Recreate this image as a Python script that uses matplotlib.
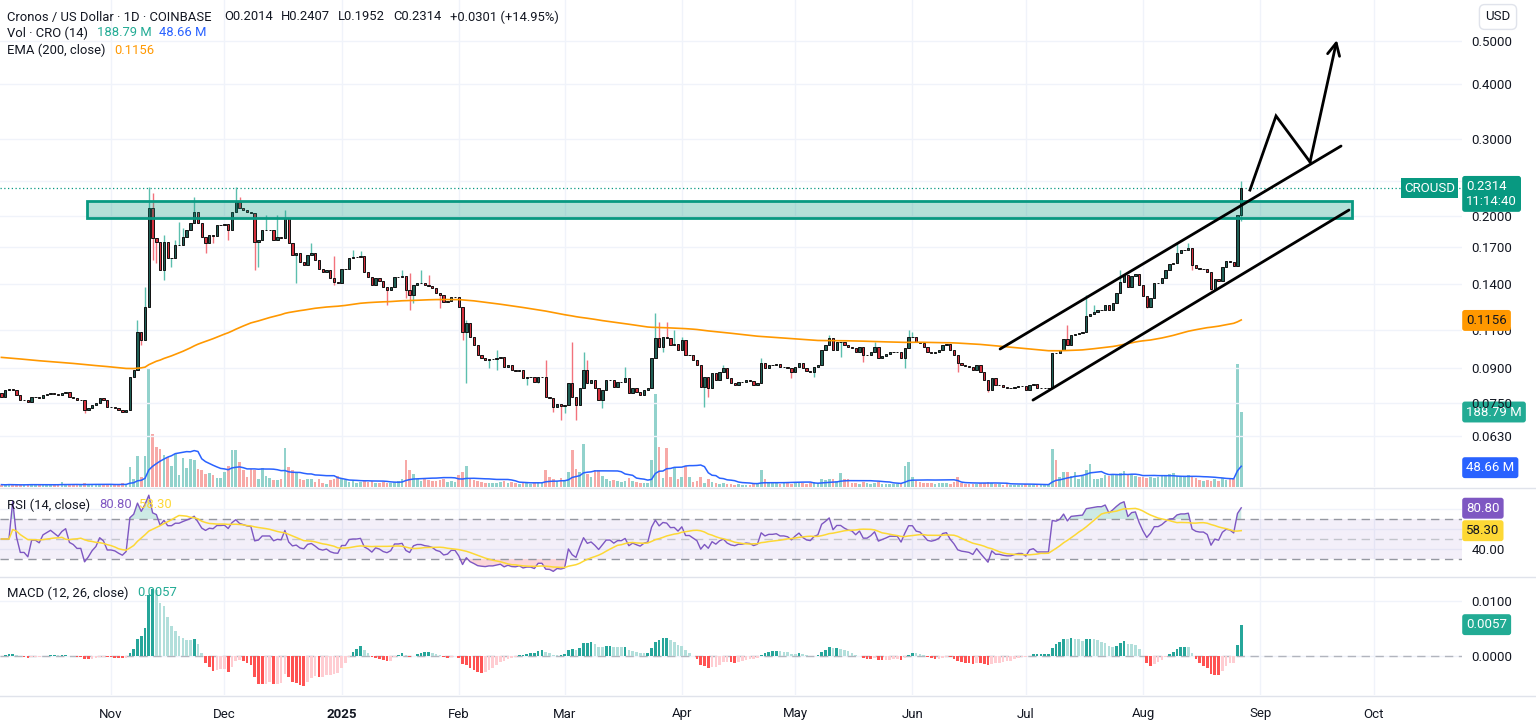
import numpy as np
import pandas as pd
import matplotlib
matplotlib.use("Agg")
import matplotlib.pyplot as plt
import matplotlib.transforms as mtransforms
from matplotlib.patches import Rectangle
from matplotlib.lines import Line2D
from matplotlib.ticker import NullLocator

plt.rcParams['font.family'] = ['Roboto', 'DejaVu Sans']

W, H = 1536, 725

# ---- data (daily CRO/USD, 2024-10-03 .. 2025-08-27) ----
start_date = "2024-10-03"
first_open = 0.0790
closes = [
    0.0773, 0.0802, 0.0806, 0.0802, 0.0781, 0.0761, 0.0761, 0.0753, 0.0773, 0.0773,
    0.0769, 0.0781, 0.0785, 0.0789, 0.0785, 0.0781, 0.0789, 0.0794, 0.0773, 0.0769,
    0.0761, 0.0761, 0.0722, 0.0730, 0.0741, 0.0749, 0.0769, 0.0761, 0.0733, 0.0733,
    0.0730, 0.0722, 0.0715, 0.0722, 0.0859, 0.0891, 0.1087, 0.1043, 0.1240, 0.2086,
    0.1781, 0.1744, 0.1506, 0.1744, 0.1604, 0.1604, 0.1717, 0.1717, 0.1791, 0.1858,
    0.1927, 0.2042, 0.1927, 0.1791, 0.1735, 0.1810, 0.1800, 0.1907, 0.1907, 0.1917,
    0.1858, 0.2042, 0.2152, 0.2086, 0.2064, 0.2042, 0.2032, 0.1744, 0.1763, 0.1858,
    0.1858, 0.1858, 0.1763, 0.1791, 0.1781, 0.1979, 0.1735, 0.1630, 0.1647, 0.1571,
    0.1547, 0.1630, 0.1647, 0.1587, 0.1514, 0.1490, 0.1506, 0.1444, 0.1414, 0.1407,
    0.1514, 0.1514, 0.1604, 0.1612, 0.1612, 0.1621, 0.1490, 0.1452, 0.1392, 0.1444,
    0.1422, 0.1377, 0.1356, 0.1377, 0.1452, 0.1452, 0.1459, 0.1356, 0.1321, 0.1392,
    0.1407, 0.1407, 0.1392, 0.1385, 0.1370, 0.1335, 0.1321, 0.1274, 0.1280, 0.1307,
    0.1307, 0.1240, 0.1087, 0.1141, 0.1060, 0.1017, 0.0964, 0.0949, 0.0939, 0.0944,
    0.0944, 0.0949, 0.0954, 0.0905, 0.0914, 0.0891, 0.0886, 0.0891, 0.0855, 0.0859,
    0.0859, 0.0837, 0.0859, 0.0859, 0.0773, 0.0769, 0.0733, 0.0745, 0.0737, 0.0741,
    0.0833, 0.0773, 0.0741, 0.0810, 0.0891, 0.0833, 0.0846, 0.0810, 0.0761, 0.0802,
    0.0846, 0.0846, 0.0815, 0.0837, 0.0837, 0.0855, 0.0789, 0.0810, 0.0794, 0.0781,
    0.0802, 0.0810, 0.0949, 0.1054, 0.1006, 0.1060, 0.1055, 0.1017, 0.1020, 0.0990,
    0.1043, 0.0964, 0.0964, 0.0939, 0.0914, 0.0815, 0.0859, 0.0810, 0.0877, 0.0846,
    0.0882, 0.0900, 0.0855, 0.0833, 0.0824, 0.0837, 0.0837, 0.0846, 0.0842, 0.0824,
    0.0833, 0.0924, 0.0900, 0.0914, 0.0914, 0.0919, 0.0905, 0.0905, 0.0900, 0.0882,
    0.0905, 0.0924, 0.0900, 0.0886, 0.0882, 0.0905, 0.0914, 0.0990, 0.1017, 0.1054,
    0.0990, 0.1032, 0.1032, 0.1017, 0.1006, 0.1001, 0.0980, 0.1006, 0.0964, 0.0964,
    0.0980, 0.1006, 0.0949, 0.0959, 0.0969, 0.0980, 0.0980, 0.0980, 0.0949, 0.1001,
    0.1060, 0.1060, 0.1032, 0.1027, 0.1006, 0.0980, 0.0975, 0.0980, 0.0990, 0.1017,
    0.1022, 0.0990, 0.0964, 0.0924, 0.0914, 0.0910, 0.0905, 0.0891, 0.0914, 0.0882,
    0.0846, 0.0802, 0.0855, 0.0824, 0.0824, 0.0815, 0.0810, 0.0810, 0.0815, 0.0819,
    0.0819, 0.0802, 0.0824, 0.0828, 0.0810, 0.0810, 0.0810, 0.0810, 0.0975, 0.0972,
    0.0990, 0.1049, 0.1017, 0.1071, 0.1076, 0.1082, 0.1087, 0.1183, 0.1196, 0.1208,
    0.1221, 0.1221, 0.1253, 0.1221, 0.1267, 0.1335, 0.1414, 0.1467, 0.1377, 0.1459,
    0.1475, 0.1392, 0.1314, 0.1240, 0.1300, 0.1407, 0.1407, 0.1444, 0.1506, 0.1555,
    0.1563, 0.1647, 0.1673, 0.1673, 0.1690, 0.1547, 0.1522, 0.1514, 0.1514, 0.1490,
    0.1363, 0.1436, 0.1422, 0.1530, 0.1579, 0.1571, 0.1539, 0.2014, 0.2314,
]
# visible wicks (candle index -> price)
wick_high = {36: 0.1159, 38: 0.1377, 39: 0.2332, 40: 0.2257, 43: 0.1810, 46: 0.1763,
             47: 0.1938, 48: 0.1877, 51: 0.2208, 62: 0.2332, 63: 0.2208, 70: 0.2011,
             73: 0.2011, 75: 0.2064, 82: 0.1735, 88: 0.1621, 93: 0.1673, 95: 0.1664,
             106: 0.1506, 108: 0.1483, 111: 0.1506, 113: 0.1467, 123: 0.1159, 131: 0.0990,
             144: 0.0939, 151: 0.1032, 154: 0.0980, 155: 0.0939, 165: 0.0905, 173: 0.1204,
             174: 0.1147, 176: 0.1147, 178: 0.1099, 180: 0.1060, 191: 0.0914, 201: 0.0949,
             219: 0.1071, 231: 0.1032, 240: 0.1099, 241: 0.1087, 282: 0.1128, 287: 0.1321,
             289: 0.1253, 296: 0.1506, 311: 0.1744, 314: 0.1735, 328: 0.2407}
wick_low = {22: 0.0711, 36: 0.1028, 37: 0.1017, 40: 0.1587, 41: 0.1563, 43: 0.1429,
            45: 0.1530, 54: 0.1647, 56: 0.1735, 60: 0.1763, 67: 0.1506, 68: 0.1530,
            78: 0.1407, 88: 0.1392, 102: 0.1253, 107: 0.1300, 108: 0.1221, 109: 0.1267,
            116: 0.1234, 122: 0.1043, 123: 0.0833, 129: 0.0900, 131: 0.0891, 139: 0.0824,
            142: 0.0833, 146: 0.0715, 148: 0.0685, 149: 0.0711, 152: 0.0685, 159: 0.0730,
            175: 0.0980, 186: 0.0733, 187: 0.0773, 209: 0.0855, 215: 0.0859, 222: 0.0954,
            228: 0.0929, 239: 0.0900, 253: 0.0882, 261: 0.0794, 303: 0.1234, 315: 0.1506,
            320: 0.1356, 328: 0.1952}
# volume, millions of CRO
volumes = [
    6, 5, 7, 5, 4, 6, 5, 8, 7, 5, 4, 6, 5, 7, 6, 5, 12, 6, 5, 7, 6, 5, 9, 7, 6, 5, 6, 5, 8, 6,
    7, 5, 9, 6, 50, 21, 77, 25, 77, 300, 133, 100, 95, 80, 75, 54, 83, 29, 72, 47,
    71, 67, 46, 42, 33, 36, 31, 22, 22, 37, 54, 93, 93, 62, 42, 25, 46, 42, 21, 47,
    27, 22, 17, 18, 21, 97, 50, 44, 39, 21, 17, 21, 19, 12, 21, 11, 8, 17, 21, 27,
    21, 18, 12, 15, 10, 12, 14, 12, 15, 10, 9, 12, 11, 10, 12, 14, 20, 68, 42, 33,
    20, 15, 22, 18, 15, 14, 18, 20, 12, 14, 12, 30, 39, 54, 21, 18, 15, 12, 10, 11,
    9, 10, 12, 14, 10, 12, 9, 8, 13, 10, 8, 11, 12, 10, 44, 25, 20, 15, 22, 15,
    39, 93, 46, 39, 108, 33, 25, 44, 43, 27, 20, 16, 18, 14, 12, 15, 22, 14, 12, 11,
    9, 10, 68, 235, 100, 23, 98, 25, 50, 20, 25, 54, 25, 12, 15, 25, 10, 20, 12, 10,
    8, 10, 7, 8, 6, 7, 6, 5, 6, 7, 8, 42, 20, 10, 9, 10, 8, 9, 10, 8,
    12, 10, 9, 8, 9, 12, 10, 20, 17, 20, 19, 15, 36, 20, 19, 10, 9, 8, 12, 9,
    8, 10, 12, 8, 7, 8, 7, 8, 10, 52, 64, 26, 14, 12, 11, 10, 9, 8, 9, 10,
    9, 8, 12, 25, 10, 8, 7, 8, 7, 9, 10, 12, 9, 8, 7, 6, 7, 5, 6, 5,
    6, 7, 6, 5, 6, 5, 6, 7, 96, 67, 25, 39, 39, 28, 39, 20, 28, 42, 57, 20,
    20, 23, 30, 27, 32, 33, 36, 40, 33, 30, 28, 25, 25, 22, 24, 22, 24, 28, 30, 32,
    34, 28, 26, 27, 29, 27, 22, 18, 16, 18, 16, 20, 16, 22, 18, 19, 20, 310, 189,
]
ema_seed = 0.0954

# drawings on the chart (day offset from start, price)
zone_days = (22.6, 357.3)
zone_prices = (0.1979, 0.2164)
channel_upper = [(264.2, 0.0995), (354.4, 0.2888)]
channel_lower = [(272.9, 0.0761), (356.5, 0.2064)]
path_days = [330.3, 337.2, 346.2, 353.3]
path_prices = [0.2292, 0.3382, 0.2656, 0.5038]

price_ticks = [0.5, 0.4, 0.3, 0.24, 0.2, 0.17, 0.14, 0.11, 0.09, 0.075, 0.063]
month_labels = ["Nov", "Dec", "2025", "Feb", "Mar", "Apr", "May", "Jun", "Jul", "Aug", "Sep", "Oct"]
month_starts = ["2024-11-01", "2024-12-01", "2025-01-01", "2025-02-01", "2025-03-01", "2025-04-01",
                "2025-05-01", "2025-06-01", "2025-07-01", "2025-08-01", "2025-09-01", "2025-10-01"]

# ---- derived series ----
c = np.array(closes)
n = len(c)
x = np.arange(n)
o = np.r_[first_open, c[:-1]]
hi = np.maximum(o, c)
lo = np.minimum(o, c)
for k, v in wick_high.items():
    hi[k] = max(hi[k], v)
for k, v in wick_low.items():
    lo[k] = min(lo[k], v)
up = c >= o
vol = np.array(volumes, dtype=float)
vol_ma = pd.Series(vol).rolling(14, min_periods=1).mean().values

ema = np.empty(n)
prev = ema_seed
for i in range(n):
    prev = prev + 2 / 201 * (c[i] - prev)
    ema[i] = prev

s = pd.Series(c)
d = s.diff().fillna(0)
g = d.clip(lower=0).ewm(alpha=1 / 14, adjust=False).mean()
l = (-d.clip(upper=0)).ewm(alpha=1 / 14, adjust=False).mean()
rsi = (100 - 100 / (1 + g / l.replace(0, np.nan))).fillna(50).values
rsi_ma = pd.Series(rsi).rolling(14, min_periods=1).mean().values

macd = s.ewm(span=12, adjust=False).mean() - s.ewm(span=26, adjust=False).mean()
hist = (macd - macd.ewm(span=9, adjust=False).mean()).values
hprev = np.r_[hist[0], hist[:-1]]
hist_col = np.where(hist >= 0, np.where(hist >= hprev, '#26a69a', '#b2dfdb'),
                    np.where(hist < hprev, '#ff5252', '#ffcdd2'))

t0 = pd.Timestamp(start_date)
month_x = [(pd.Timestamp(m) - t0).days for m in month_starts]

# ---- figure layout (pixel based) ----
fig = plt.figure(figsize=(W / 100, H / 100), dpi=100)
fig.patch.set_facecolor('white')
PW = 1462


def rect(top, bottom):
    return [0, 1 - bottom / H, PW / W, (bottom - top) / H]


ax_vol = fig.add_axes(rect(0, 487))
ax = fig.add_axes(rect(0, 487), sharex=ax_vol)
ax_rsi = fig.add_axes(rect(489, 576), sharex=ax_vol)
ax_macd = fig.add_axes(rect(578, 695), sharex=ax_vol)
ax.patch.set_visible(False)

xlim = (-0.37, 386.4)
grid_c = '#f0f3fa'
txt_c = '#131722'
for a in (ax_vol, ax, ax_rsi, ax_macd):
    for sp in a.spines.values():
        sp.set_visible(False)
    a.set_xlim(*xlim)
    a.set_xticks(month_x)
    a.tick_params(axis='x', length=0, labelbottom=False)
    a.tick_params(axis='y', length=0)

# volume
ax_vol.bar(x, vol, width=0.7, color=np.where(up, '#92d2cc', '#f7a9a7'), zorder=1)
ax_vol.plot(x, vol_ma, color='#2962ff', lw=1.1, zorder=2)
ax_vol.set_ylim(0, 1226)
ax_vol.set_yticks([])
ax_vol.xaxis.grid(True, color=grid_c, lw=1)
ax_vol.set_axisbelow(True)

# price
ax.set_yscale('log')
ax.set_ylim(0.04822, 0.6216)
ax.yaxis.set_minor_locator(NullLocator())
ax.set_yticks(price_ticks)
ax.set_yticklabels([f"{p:.4f}" for p in price_ticks])
ax.yaxis.tick_right()
ax.tick_params(axis='y', pad=7, labelsize=9.5, labelcolor=txt_c)
ax.yaxis.grid(True, color=grid_c, lw=1)
ax.set_axisbelow(True)

wick_col = np.where(up, '#5cbfae', '#f2727c')
ax.vlines(x, lo, hi, colors=wick_col, lw=1, zorder=3)
ax.bar(x, c - o, bottom=o, width=0.62, color=np.where(up, '#1f5f55', '#d32f3c'),
       edgecolor='#111111', linewidth=0.7, zorder=4)
ax.plot(x, ema, color='#ff9800', lw=1.2, zorder=5)

ax.add_patch(Rectangle((zone_days[0], zone_prices[0]), zone_days[1] - zone_days[0],
                       zone_prices[1] - zone_prices[0], fc='#089981', alpha=0.3, ec='none', zorder=6))
ax.add_patch(Rectangle((zone_days[0], zone_prices[0]), zone_days[1] - zone_days[0],
                       zone_prices[1] - zone_prices[0], fc='none', ec='#089981', lw=2, zorder=6))
for ln in (channel_upper, channel_lower):
    ax.plot([ln[0][0], ln[1][0]], [ln[0][1], ln[1][1]], color='black', lw=2, zorder=7,
            solid_capstyle='round')
ax.plot(path_days[:-1], path_prices[:-1], color='black', lw=2, zorder=7, solid_joinstyle='miter')
ax.annotate('', xy=(path_days[-1], path_prices[-1]), xytext=(path_days[-2], path_prices[-2]),
            arrowprops=dict(arrowstyle='->', lw=2, color='black', mutation_scale=22,
                            shrinkA=0, shrinkB=0), zorder=7)
ax.axhline(c[-1], color='#089981', lw=0.9, ls=(0, (1, 2)), zorder=2)

# RSI
ax_rsi.set_ylim(13, 100)
ax_rsi.axhspan(30, 70, color='#7e57c2', alpha=0.09, lw=0)
for lvl, col in ((70, '#9598a1'), (50, '#c3c5cc'), (30, '#9598a1')):
    ax_rsi.axhline(lvl, color=col, lw=1, ls=(0, (6, 4)))
ax_rsi.fill_between(x, rsi, 70, where=rsi > 70, interpolate=True, color='#089981', alpha=0.2, lw=0)
ax_rsi.fill_between(x, rsi, 30, where=rsi < 30, interpolate=True, color='#f23645', alpha=0.2, lw=0)
ax_rsi.plot(x, rsi, color='#7e57c2', lw=1)
ax_rsi.plot(x, rsi_ma, color='#fdd835', lw=1.1)
ax_rsi.yaxis.tick_right()
ax_rsi.set_yticks([40, 60, 80])
# 60 and 80 sit under the value tags, only 40.00 shows
ax_rsi.set_yticklabels(["40.00", "", ""])
ax_rsi.tick_params(axis='y', pad=7, labelsize=9.5, labelcolor=txt_c)
ax_rsi.grid(True, color=grid_c, lw=1)
ax_rsi.set_axisbelow(True)

# MACD histogram
ax_macd.set_ylim(-0.00709, 0.01418)
ax_macd.axhline(0, color='#b2b5be', lw=1, ls=(0, (6, 4)), zorder=1)
ax_macd.bar(x, hist, width=0.7, color=hist_col, zorder=2)
ax_macd.yaxis.tick_right()
ax_macd.set_yticks([0, 0.01])
ax_macd.set_yticklabels(["0.0000", "0.0100"])
ax_macd.tick_params(axis='y', pad=7, labelsize=9.5, labelcolor=txt_c)
ax_macd.grid(True, color=grid_c, lw=1)
ax_macd.set_axisbelow(True)
ax_macd.tick_params(axis='x', labelbottom=True, pad=9, labelsize=9.5, labelcolor=txt_c)
ax_macd.set_xticklabels(month_labels)
for t in ax_macd.get_xticklabels():
    if t.get_text() == "2025":
        t.set_fontweight('bold')

# pane separators
for yy in (488, 577, 696):
    fig.add_artist(Line2D([0, 1], [1 - yy / H] * 2, color='#e0e3eb', lw=1))


# right-scale tags
def tag(a, y, s, fc, tc='white', dy=0, va='center'):
    tr = mtransforms.blended_transform_factory(a.transAxes, a.transData)
    a.annotate(s, xy=(1, y), xycoords=tr, xytext=(3, dy), textcoords='offset points',
               va=va, ha='left', fontsize=9.5, color=tc, zorder=20, annotation_clip=False,
               bbox=dict(boxstyle='round,pad=0.3,rounding_size=0.2', fc=fc, ec='none'))


tag(ax, c[-1], "0.2314\n11:14:40", '#089981', dy=6, va='top')
tag(ax, 0.1156, "0.1156", '#ff9800', tc=txt_c)
tag(ax_vol, 188.79, "188.79 M", '#22ab94')
tag(ax_vol, 48.66, "48.66 M", '#2962ff')
tag(ax_rsi, 80.80, "80.80", '#7e57c2')
tag(ax_rsi, 58.30, "58.30", '#fdd835', tc=txt_c)
tag(ax_macd, 0.0057, "0.0057", '#22ab94')
tr = mtransforms.blended_transform_factory(ax.transAxes, ax.transData)
ax.annotate("CROUSD", xy=(1, c[-1]), xycoords=tr, xytext=(-5, 0), textcoords='offset points',
            va='center', ha='right', fontsize=9.5, color='white', zorder=20,
            bbox=dict(boxstyle='square,pad=0.25', fc='#089981', ec='none'))
fig.text(1498 / W, 1 - 17 / H, "USD", ha='center', va='center', fontsize=9.5, color=txt_c,
         bbox=dict(boxstyle='round,pad=0.45,rounding_size=0.4', fc='white', ec='#e0e3eb'))

# legends: segments placed one after another, with the gaps seen in the chart
renderer = fig.canvas.get_renderer()


def legend_row(py, parts):
    px = 7
    for seg, color, gap in parts:
        t = fig.text(px / W, 1 - py / H, seg, color=color, fontsize=9.4, va='center', ha='left')
        px = t.get_window_extent(renderer).x1 + gap


legend_row(17, [("Cronos / US Dollar · 1D · COINBASE", txt_c, 13), ("O0.2014", txt_c, 8),
                ("H0.2407", txt_c, 8), ("L0.1952", txt_c, 8), ("C0.2314", txt_c, 8),
                ("+0.0301 (+14.95%)", txt_c, 0)])
legend_row(33, [("Vol · CRO (14)", txt_c, 9), ("188.79 M", '#22ab94', 7), ("48.66 M", '#2962ff', 0)])
legend_row(50, [("EMA (200, close)", txt_c, 9), ("0.1156", '#ff9800', 0)])
legend_row(505, [("RSI (14, close)", txt_c, 9), ("80.80", '#7e57c2', 7), ("58.30", '#fdd835', 0)])
legend_row(593, [("MACD (12, 26, close)", txt_c, 9), ("0.0057", '#22ab94', 0)])

fig.savefig("out.png", dpi=100, facecolor='white')
